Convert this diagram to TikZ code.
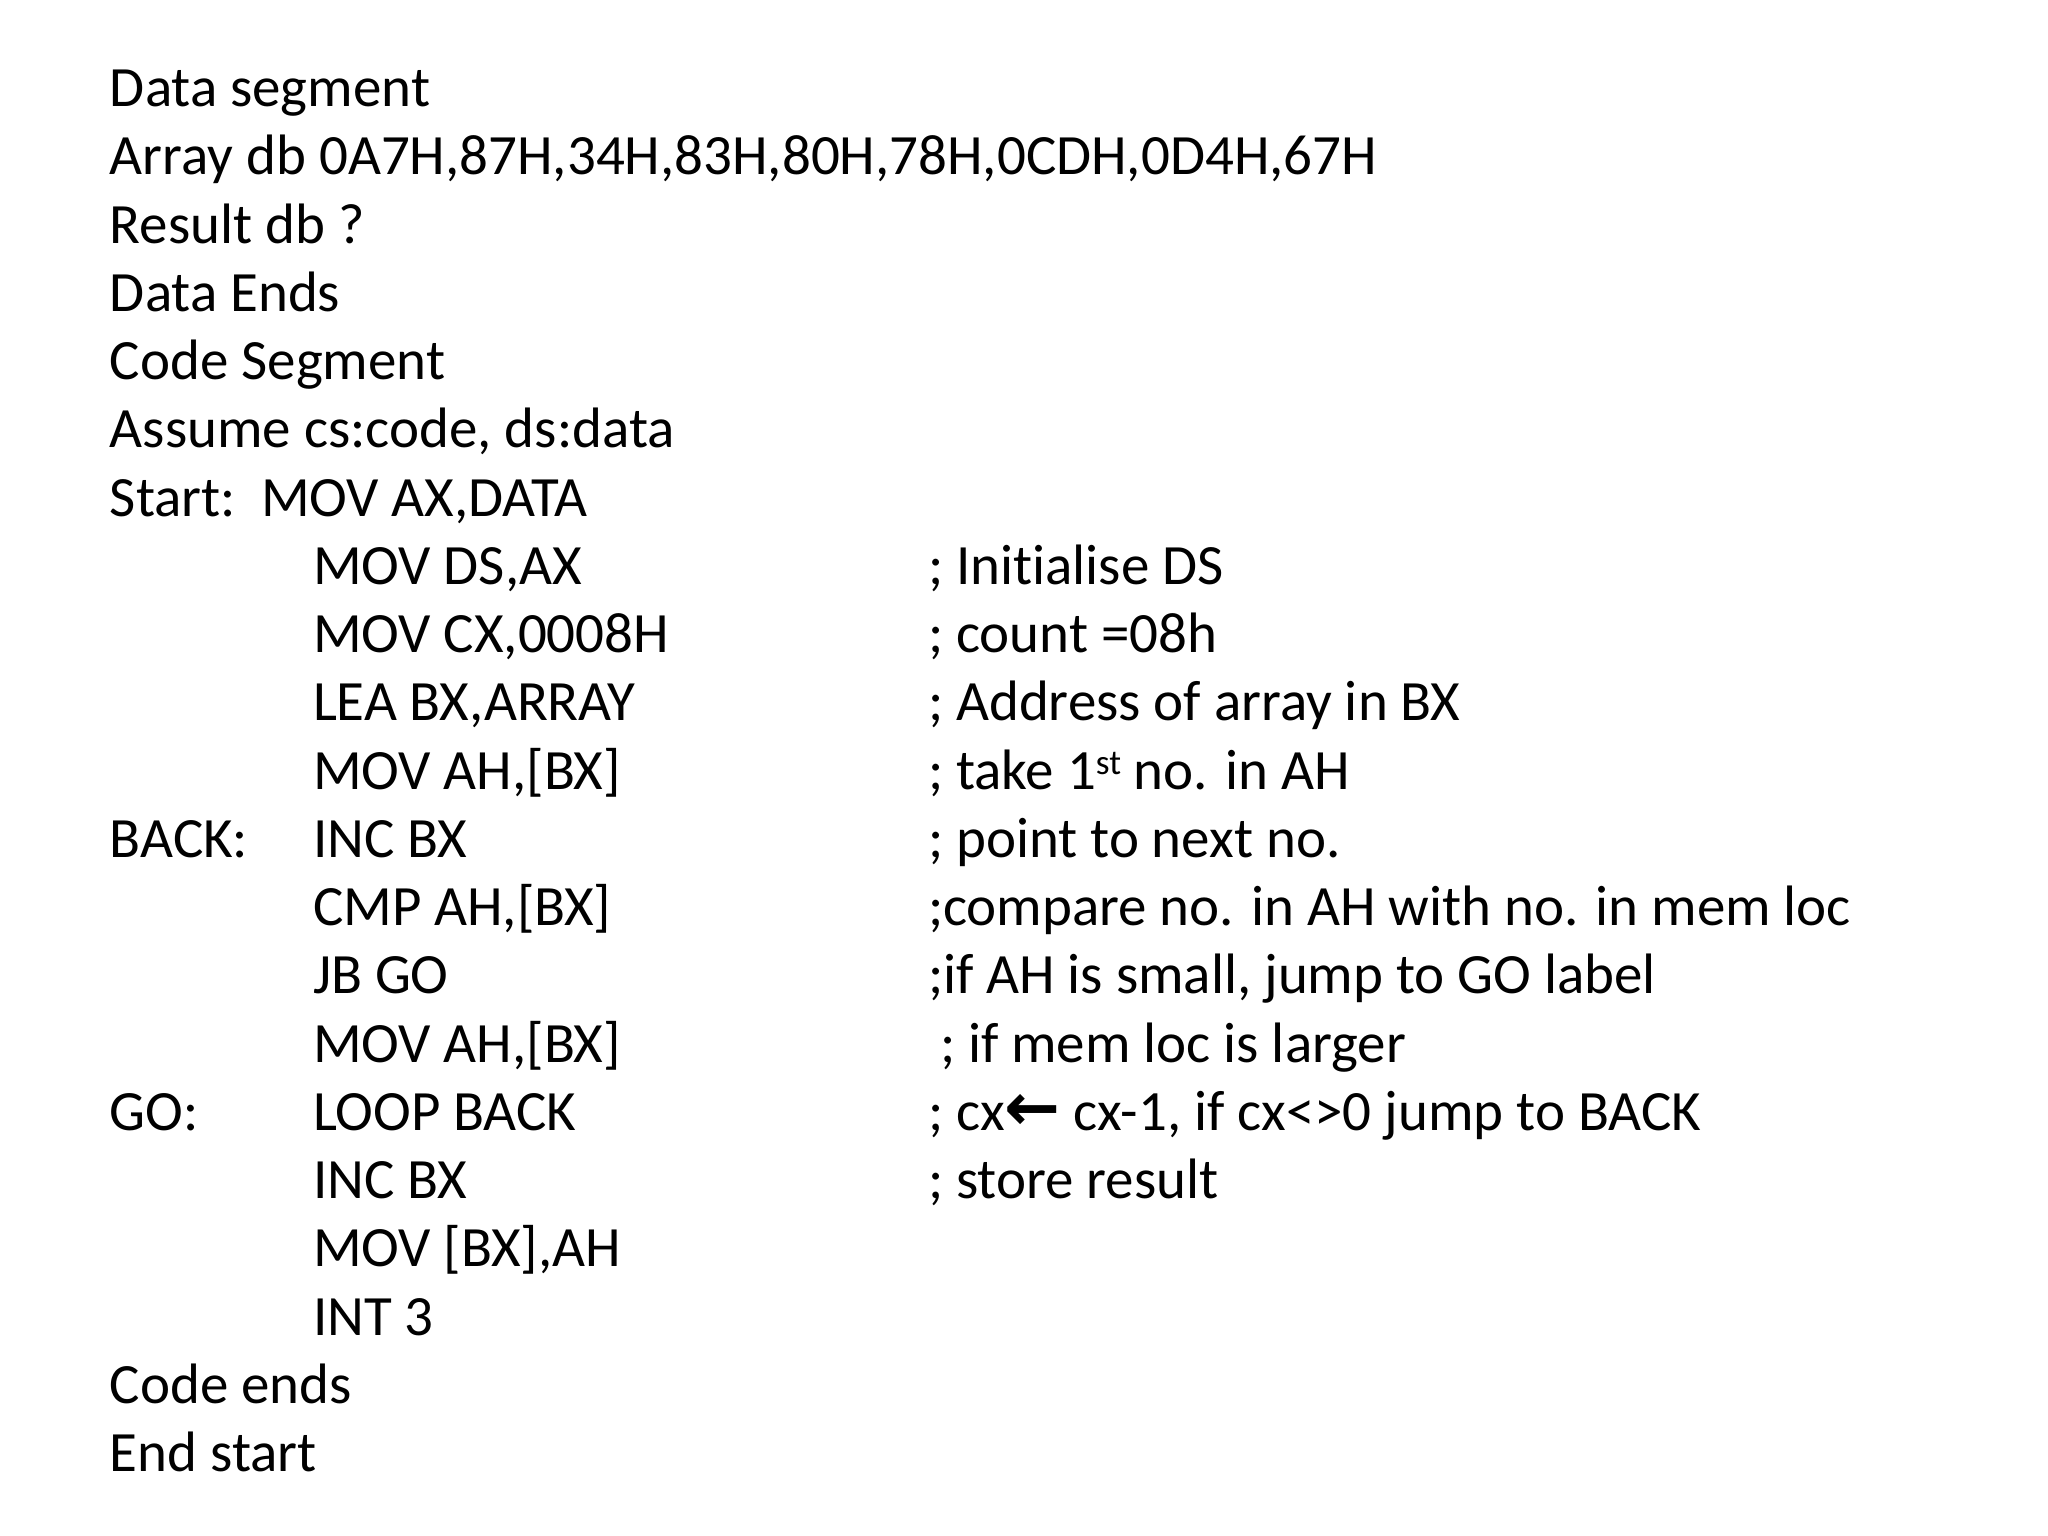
\documentclass[tikz,border=0pt]{standalone}
\usepackage{fontspec}
\setmainfont[Ligatures=NoCommon]{Carlito}
\newfontfamily\arrowfont{DejaVu Sans}

\tikzset{
  asm/.style={anchor=base west, inner sep=0pt, outer sep=0pt,
    font=\fontsize{16.2}{19}\selectfont, text=black}
}

\begin{document}
\begin{tikzpicture}[x=0.01cm, y=-0.01cm]
      \useasboundingbox (0,0) rectangle (2048,1536);
      \path[asm]
        (110, 106) node[asm] (dseg){Data segment}
        (110, 174) node[asm] (arr){Array db 0A7H,87H,34H,83H,80H,78H,0CDH,0D4H,67H}
        (110, 243) node[asm] (res){Result db ?}
        (110, 311) node[asm] (dend){Data Ends}
        (110, 379) node[asm] (cseg){Code Segment}
        (110, 447) node[asm] (assume){Assume cs:code, ds:data}
        (110, 516) node[asm] (start){Start:}
        (261, 516) node[asm] (movax){MOV AX,DATA}
        (313, 584) node[asm] (movds){MOV DS,AX}
        (313, 652) node[asm] (movcx){MOV CX,0008H}
        (313, 720) node[asm] (lea){LEA BX,ARRAY}
        (313, 789) node[asm] (movah){MOV AH,[BX]}
        (110, 857) node[asm] (back){BACK:}
        (313, 857) node[asm] (incbx){INC BX}
        (313, 925) node[asm] (cmp){CMP AH,[BX]}
        (313, 993) node[asm] (jb){JB GO}
        (313, 1062) node[asm] (movahb){MOV AH,[BX]}
        (110, 1130) node[asm] (go){GO:}
        (313, 1130) node[asm] (loop){LOOP BACK}
        (313, 1198) node[asm] (incbxb){INC BX}
        (313, 1266) node[asm] (store){MOV [BX],AH}
        (313, 1335) node[asm] (int){INT 3}
        (110, 1403) node[asm] (cend){Code ends}
        (110, 1471) node[asm] (endst){End start};
      % comments column
      \path
        (928, 584) node[asm] (c1){; Initialise DS}
        (928, 652) node[asm] (c2){; count =08h}
        (928, 720) node[asm] (c3){; Address of array in BX}
        (928, 789) node[asm] (c4){; take 1\raisebox{0.55ex}{\fontsize{10}{10}\selectfont st} no. in AH}
        (928, 857) node[asm] (c5){; point to next no.}
        (928, 925) node[asm] (c6){;compare no. in AH with no. in mem loc}
        (928, 993) node[asm] (c7){;if AH is small, jump to GO label}
        (940, 1062) node[asm] (c8){; if mem loc is larger}
        (928, 1130) node[asm] (c9){; cx{\arrowfont\bfseries\fontsize{19}{19}\selectfont ←} cx-1, if cx<>0 jump to BACK}
        (928, 1198) node[asm] (c10){; store result};
    \end{tikzpicture}
\end{document}
